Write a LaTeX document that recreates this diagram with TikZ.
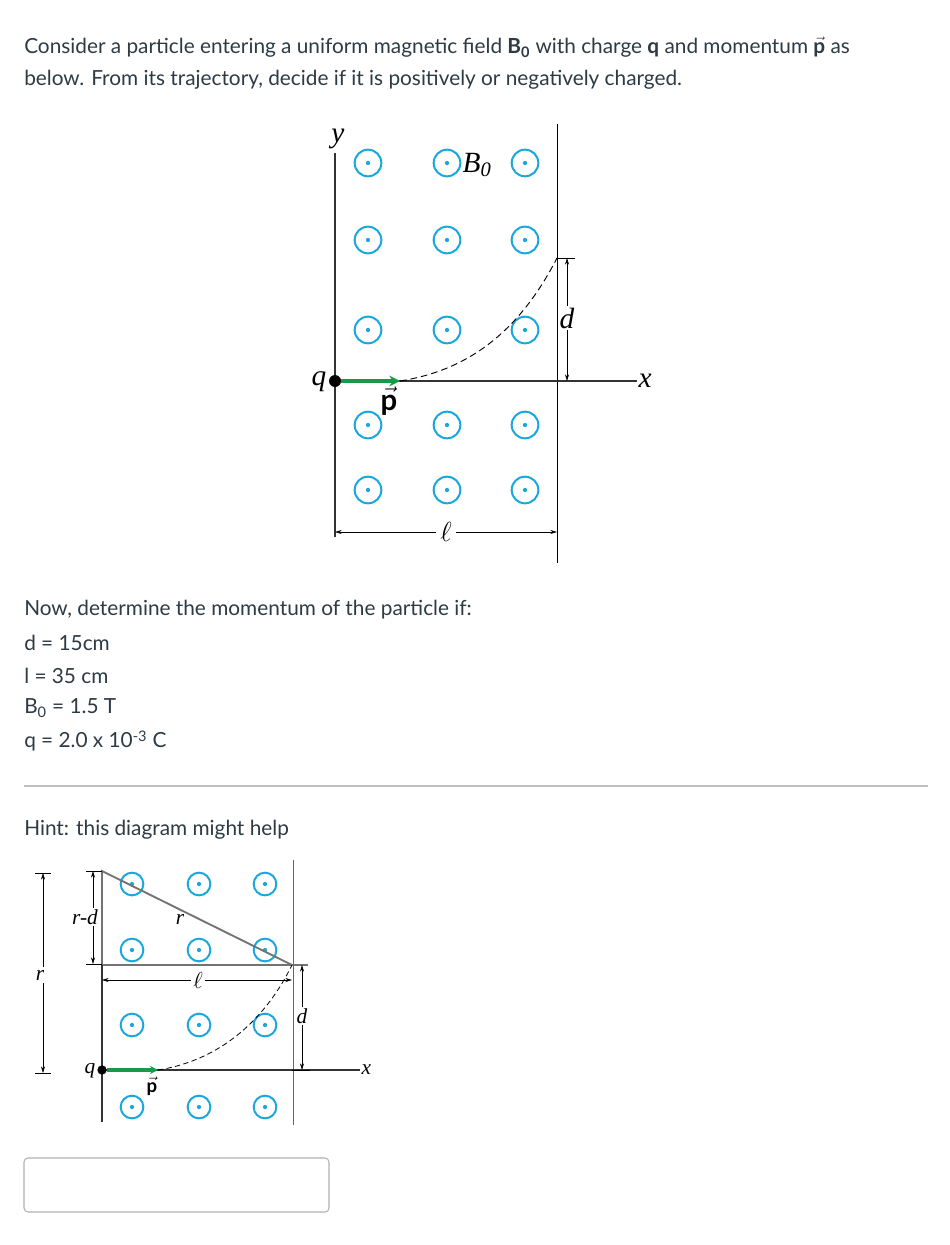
\documentclass[tikz,border=0pt]{standalone}
\usepackage{fontspec}
\setmainfont{Lato}
\usetikzlibrary{arrows.meta}
\newfontfamily\figfont{Liberation Serif}
\definecolor{txt}{HTML}{2D3B45}
\definecolor{bcol}{HTML}{1AA7E0}
\definecolor{pgreen}{HTML}{1A9A48}
\begin{document}
\begin{tikzpicture}[x=0.75pt,y=-0.75pt,
  lbl/.style={text=txt,font=\fontsize{15.6}{18}\selectfont,anchor=west,inner sep=0},
  bdot/.style={circle,draw=bcol,line width=1.5pt,minimum size=#1,inner sep=0,
     path picture={\fill[bcol] (path picture bounding box.center) circle (1.6pt);}},
  fl/.style={font=\figfont\itshape\fontsize{22}{24}\selectfont,inner sep=1pt},
  sl/.style={font=\figfont\itshape\fontsize{16}{18}\selectfont,inner sep=1pt},
  dim/.style={{Stealth[length=5pt,width=3pt]}-{Stealth[length=5pt,width=3pt]},line width=0.4pt}]
\useasboundingbox (0,0) rectangle (949,1245);
\fill[white] (0,0) rectangle (949,1245);
\node[lbl] (t1) at (24,47) {Consider a particle entering a uniform magnetic field \textbf{B\textsubscript{0}} with charge \textbf{q} and momentum $\vec{\mathbf{p}}$ as};
\node[lbl] (t2) at (24,80) {below. From its trajectory, decide if it is positively or negatively charged.};
% top diagram
\coordinate (ya0) at (335,537); \coordinate (ya1) at (335,153);
\draw[line width=0.9pt,black!80] (ya0) -- (ya1);
\node[fl] (ylab) at (338,139) {y};
\draw[line width=0.5pt] (557,124) -- (557,563);
\coordinate (xa1) at (637,381);
\draw[line width=0.9pt,black!80] (335,381) -- (xa1);
\node[fl,anchor=west] (xlab) at (xa1) {x};
\foreach \xx in {368,447,525}{\foreach \yy in {163,240,330,425,490}{\node[bdot=20pt] at (\xx,\yy) {};}}
\node[fl,anchor=west] (B0) at (461,165) {B\textsubscript{0}};
\node[circle,fill=black,inner sep=0,minimum size=9pt] (q1) at (335,381) {};
\node[fl,anchor=east] (qlab) at (328,382) {q};
\coordinate (p1) at (400,381);
\draw[pgreen,line width=2.8pt,-{Stealth[length=8pt,width=8pt]}] (q1) -- (p1);
\node[font=\figfont\bfseries\fontsize{22}{24}\selectfont] (plab) at (389,401) {$\vec{\mathbf{p}}$};
\coordinate (e1) at (557,258);
\draw[dashed,dash pattern=on 5pt off 3pt,line width=0.7pt] (p1) .. controls (470,370) and (520,330) .. (e1);
\draw[line width=0.4pt] (557,258) -- (575,258);
\draw[dim] (567,258) -- (567,381);
\node[fl,fill=white] (dlab) at (567,318) {d};
\draw[dim] (335,532) -- (557,532);
\node[fl,fill=white,inner sep=3pt] (llab) at (446,532) {$\ell$};
% text
\node[lbl] (n1) at (24,610) {Now, determine the momentum of the particle if:};
\node[lbl] (n2) at (24,643) {d = 15cm};
\node[lbl] (n3) at (24,676) {l = 35 cm};
\node[lbl] (n4) at (24,708) {B\textsubscript{0} = 1.5 T};
\node[lbl] (n5) at (24,741) {q = 2.0 x 10\textsuperscript{-3} C};
\draw[black!25,line width=0.8pt] (24,786) -- (928,786);
\node[lbl] (h1) at (24,830) {Hint: this diagram might help};
% bottom diagram
\draw[line width=0.4pt,black!60] (293,860) -- (293,1125);
\foreach \xx in {132,199,265}{\foreach \yy in {884,950,1025,1107}{\node[bdot=17pt] at (\xx,\yy) {};}}
\draw[black!55,line width=1.4pt] (102,871) -- (102,965) -- (292,965) -- cycle;
\draw[black!55,line width=1.4pt] (292,965) -- (308,965);
\draw[line width=0.9pt,black!80] (102,965) -- (102,1122);
\draw[line width=0.9pt,black!80] (102,1070) -- (360,1070);
\node[sl,anchor=west] (x2) at (360,1070) {x};
\node[circle,fill=black,inner sep=0,minimum size=7pt] (q2) at (102,1070) {};
\node[sl,anchor=east] (q2l) at (97,1071) {q};
\coordinate (p2) at (158,1070);
\draw[pgreen,line width=2.3pt,-{Stealth[length=6pt,width=6pt]}] (q2) -- (p2);
\node[font=\figfont\bfseries\fontsize{14}{16}\selectfont,inner sep=0] (p2l) at (152,1086) {$\vec{\mathbf{p}}$};
\draw[dashed,dash pattern=on 4pt off 2.5pt,line width=0.6pt] (p2) .. controls (210,1062) and (260,1030) .. (292,965);
\draw[line width=0.4pt] (35,873) -- (51,873); \draw[line width=0.4pt] (35,1073) -- (51,1073);
\draw[dim] (43,873) -- (43,1073);
\node[sl,fill=white,inner sep=2pt] (rl) at (40,975) {r};
\draw[line width=0.4pt] (86,871) -- (102,871); \draw[line width=0.4pt] (86,964) -- (102,964);
\draw[dim] (93,871) -- (93,964);
\node[sl,fill=white] (rdl) at (85,917) {r-d};
\draw[dim] (102,980) -- (292,980);
\node[sl,fill=white,inner sep=2pt] (ll2) at (198,980) {$\ell$};
\draw[line width=0.4pt] (292,1070) -- (310,1070);
\draw[dim] (302,965) -- (302,1070);
\node[sl,fill=white] (dl2) at (302,1016) {d};
\node[sl] (rh) at (180,919) {r};
% answer box
\draw[black!30,line width=0.8pt,rounded corners=3pt] (24,1158) rectangle (329,1212);
\end{tikzpicture}
\end{document}
